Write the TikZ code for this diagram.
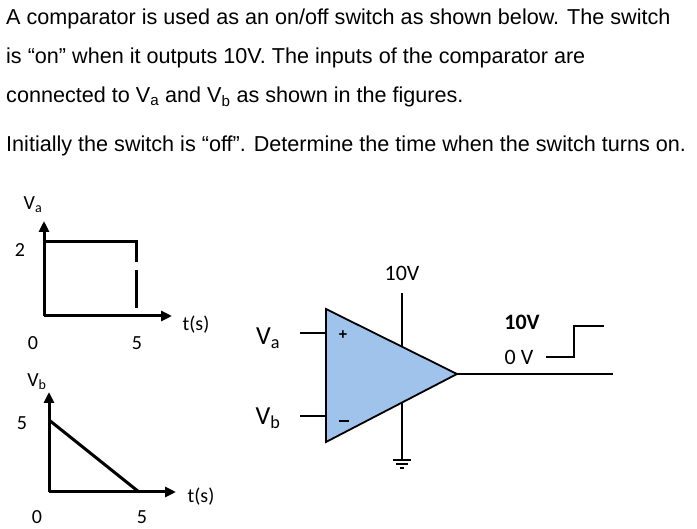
\documentclass[tikz,border=0pt]{standalone}
\usepackage{fontspec}
\setmainfont{Liberation Sans}
\newfontfamily\carfont{Carlito}
\usetikzlibrary{arrows.meta}
\definecolor{opfill}{RGB}{160,195,235}
\begin{document}
\begin{tikzpicture}[x=1pt,y=-1pt,
  txt/.style={anchor=west,inner sep=0,font=\fontsize{21.6}{24}\selectfont},
  lab/.style={inner sep=0,font=\carfont\fontsize{20}{22}\selectfont},
  ax/.style={line width=3pt,-{Triangle[length=11pt,width=10pt]}},
  thick2/.style={line width=3pt},
  wire/.style={line width=1.3pt}]
\useasboundingbox (0,0) rectangle (697,529);
\node[txt] (l1) at (6,19) {A comparator is used as an on/off switch as shown below. The switch};
\node[txt] (l2) at (6,58) {is “on” when it outputs 10V. The inputs of the comparator are};
\node[txt] (l3) at (6,97) {connected to V\textsubscript{a} and V\textsubscript{b} as shown in the figures.};
\node[txt] (l4) at (6,146) {Initially the switch is “off”. Determine the time when the switch turns on.};
% graph a
\coordinate (oa) at (44,316);
\coordinate (ya) at (44,221);
\coordinate (xa) at (172,316);
\draw[ax] (oa) -- (ya);
\draw[ax] (oa) -- (xa);
\draw[thick2] (44,242) -- (136,242) -- (136,262);
\draw[thick2] (136,270) -- (136,308);
\node[lab] (va) at (33,205) {V\textsubscript{a}};
\node[lab] (n2) at (20,250) {2};
\node[lab] (n0a) at (33,343) {0};
\node[lab] (n5a) at (137,343) {5};
\node[lab] (ta) at (196,325) {t(s)};
% graph b
\coordinate (ob) at (49,492);
\coordinate (yb) at (49,392);
\coordinate (xb) at (176,492);
\draw[ax] (ob) -- (yb);
\draw[ax] (ob) -- (xb);
\draw[thick2] (49,420) -- (139,492);
\node[lab] (vb) at (37,382) {V\textsubscript{b}};
\node[lab] (n5b) at (22,423) {5};
\node[lab] (n0b) at (37,517) {0};
\node[lab] (n5c) at (142,517) {5};
\node[lab] (tb) at (201,497) {t(s)};
% comparator
\draw[wire] (402,293) -- (402,460);
\draw[wire] (393,460) -- (411,460) (396,464) -- (408,464) (400,468) -- (404,468);
\draw[wire] (300,333) -- (326,333);
\draw[wire] (300,416) -- (326,416);
\draw[line width=1.8pt,fill=opfill] (326,309) -- (457,374) -- (326,442) -- cycle;
\draw[wire] (457,374) -- (613,374);
\node[inner sep=0,font=\bfseries\fontsize{15}{15}\selectfont] (pl) at (343,335) {+};
\draw[line width=2pt] (339,421) -- (349,421);
\node[lab,font=\carfont\fontsize{26}{28}\selectfont] (vai) at (268,338) {V\textsubscript{a}};
\node[lab,font=\carfont\fontsize{26}{28}\selectfont] (vbi) at (268,418) {V\textsubscript{b}};
\node[lab,font=\carfont\fontsize{22}{24}\selectfont] (ten) at (402,273) {10V};
\node[lab,font=\carfont\bfseries\fontsize{22}{24}\selectfont] (tenv) at (522,322) {10V};
\node[lab,font=\carfont\fontsize{22}{24}\selectfont] (zero) at (519,357) {0 V};
\draw[line width=1.8pt] (546,357) -- (574,357) -- (574,326) -- (604,326);
\end{tikzpicture}
\end{document}
